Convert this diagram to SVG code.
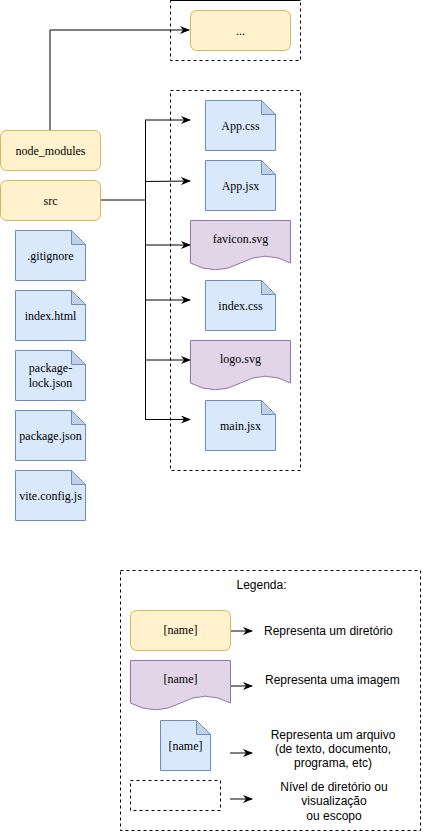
<svg xmlns="http://www.w3.org/2000/svg" width="423" height="833" viewBox="0 0 423 833">
<defs>
<style>
.dir{fill:#fff2cc;stroke:#d6b656;stroke-width:1}
.img{fill:#e1d5e7;stroke:#9673a6;stroke-width:1}
.file{fill:#dae8fc;stroke:#6c8ebf;stroke-width:1}
.fold{fill:#c3d1e6;stroke:#6c8ebf;stroke-width:1;stroke-linejoin:round}
.scope{fill:none;stroke:#000;stroke-width:1;stroke-dasharray:3 3}
.t{font-family:"Liberation Serif","Times New Roman",serif;font-size:12px;fill:#000;text-anchor:middle}
.s{font-family:"Liberation Sans",Arial,sans-serif;font-size:12px;fill:#000}
.edge{fill:none;stroke:#000;stroke-width:1}
</style>
<marker id="arr" viewBox="0 0 10 8" refX="9" refY="4" markerWidth="10" markerHeight="8" markerUnits="userSpaceOnUse" orient="auto">
<path d="M0,0 L10,4 L0,8 L3,4 Z" fill="#000"/>
</marker>
</defs>

<g id="scopes">
<rect class="scope" x="170.5" y="0.5" width="130" height="60"/>
<line x1="170.5" y1="0.5" x2="300.5" y2="0.5" stroke="#000" stroke-width="1"/>
<rect class="scope" x="170.5" y="90.5" width="130" height="380"/>
</g>

<g id="connectors">
<path class="edge" d="M50,130 L50,30 L189,30" marker-end="url(#arr)"/>
<path class="edge" d="M100,200 L145,200"/>
<path class="edge" d="M145.5,120 L145.5,419.5"/>
<path class="edge" d="M145,120 L190,120" marker-end="url(#arr)"/>
<path class="edge" d="M145,181.5 L190,181" marker-end="url(#arr)"/>
<path class="edge" d="M145,245 L190,245" marker-end="url(#arr)"/>
<path class="edge" d="M145,300 L190,300" marker-end="url(#arr)"/>
<path class="edge" d="M145,360 L190,360" marker-end="url(#arr)"/>
<path class="edge" d="M145,419.5 L190,419.5" marker-end="url(#arr)"/>
</g>

<g id="node-dots">
<rect class="dir" x="190.5" y="10.5" width="100" height="40" rx="6"/>
<text class="t" x="240.5" y="35">...</text>
</g>
<g id="node-node_modules">
<rect class="dir" x="0.5" y="130.5" width="100" height="40" rx="6"/>
<text class="t" x="50.5" y="155">node_modules</text>
</g>
<g id="node-src">
<rect class="dir" x="0.5" y="180.5" width="100" height="40" rx="6"/>
<text class="t" x="50.5" y="205">src</text>
</g>

<g id="node-app-css">
<path class="file" d="M205.5,100.5 H261.5 L275.5,114.5 V150.5 H205.5 Z"/>
<path class="fold" d="M261.5,100.5 V114.5 H275.5 Z"/>
<text class="t" x="240.5" y="130">App.css</text>
</g>
<g id="node-app-jsx">
<path class="file" d="M205.5,160.5 H261.5 L275.5,174.5 V210.5 H205.5 Z"/>
<path class="fold" d="M261.5,160.5 V174.5 H275.5 Z"/>
<text class="t" x="240.5" y="190">App.jsx</text>
</g>
<g id="node-favicon">
<path class="img" d="M190.5,220.5 H290.5 V263 Q265.5,249.5 240.5,263 Q215.5,276.5 190.5,263 Z"/>
<text class="t" x="240.5" y="243">favicon.svg</text>
</g>
<g id="node-index-css">
<path class="file" d="M205.5,280.5 H261.5 L275.5,294.5 V330.5 H205.5 Z"/>
<path class="fold" d="M261.5,280.5 V294.5 H275.5 Z"/>
<text class="t" x="240.5" y="310">index.css</text>
</g>
<g id="node-logo">
<path class="img" d="M190.5,340.5 H290.5 V383 Q265.5,369.5 240.5,383 Q215.5,396.5 190.5,383 Z"/>
<text class="t" x="240.5" y="363">logo.svg</text>
</g>
<g id="node-main-jsx">
<path class="file" d="M205.5,400.5 H261.5 L275.5,414.5 V450.5 H205.5 Z"/>
<path class="fold" d="M261.5,400.5 V414.5 H275.5 Z"/>
<text class="t" x="240.5" y="430">main.jsx</text>
</g>

<g id="node-gitignore">
<path class="file" d="M15.5,230.5 H71.5 L85.5,244.5 V280.5 H15.5 Z"/>
<path class="fold" d="M71.5,230.5 V244.5 H85.5 Z"/>
<text class="t" x="50.5" y="260">.gitignore</text>
</g>
<g id="node-index-html">
<path class="file" d="M15.5,290.5 H71.5 L85.5,304.5 V340.5 H15.5 Z"/>
<path class="fold" d="M71.5,290.5 V304.5 H85.5 Z"/>
<text class="t" x="50.5" y="320">index.html</text>
</g>
<g id="node-package-lock">
<path class="file" d="M15.5,350.5 H71.5 L85.5,364.5 V400.5 H15.5 Z"/>
<path class="fold" d="M71.5,350.5 V364.5 H85.5 Z"/>
<text class="t" x="50.5" y="372">package-</text>
<text class="t" x="50.5" y="387">lock.json</text>
</g>
<g id="node-package-json">
<path class="file" d="M15.5,410.5 H71.5 L85.5,424.5 V460.5 H15.5 Z"/>
<path class="fold" d="M71.5,410.5 V424.5 H85.5 Z"/>
<text class="t" x="50.5" y="440">package.json</text>
</g>
<g id="node-vite-config">
<path class="file" d="M15.5,470.5 H71.5 L85.5,484.5 V520.5 H15.5 Z"/>
<path class="fold" d="M71.5,470.5 V484.5 H85.5 Z"/>
<text class="t" x="50.5" y="500">vite.config.js</text>
</g>

<g id="legend">
<rect class="scope" x="120.5" y="570.5" width="300" height="260"/>
<text class="s" x="261.5" y="589" text-anchor="middle">Legenda:</text>
<rect class="dir" x="130.5" y="610.5" width="100" height="40" rx="6"/>
<text class="t" x="180.5" y="634">[name]</text>
<path class="img" d="M130.5,660.5 H230.5 V703 Q205.5,689.5 180.5,703 Q155.5,716.5 130.5,703 Z"/>
<text class="t" x="180.5" y="683">[name]</text>
<path class="file" d="M160.5,720.5 H196.5 L210.5,734.5 V770.5 H160.5 Z"/>
<path class="fold" d="M196.5,720.5 V734.5 H210.5 Z"/>
<text class="t" x="185.5" y="750">[name]</text>
<rect class="scope" x="130.5" y="780.5" width="90" height="30"/>
<path class="edge" d="M231,631 L252,631" marker-end="url(#arr)"/>
<path class="edge" d="M231,686 L252,686" marker-end="url(#arr)"/>
<path class="edge" d="M230,753 L252,753" marker-end="url(#arr)"/>
<path class="edge" d="M230,799 L252,799" marker-end="url(#arr)"/>
<text class="s" x="264" y="635">Representa um diretório</text>
<text class="s" x="265" y="684">Representa uma imagem</text>
<text class="s" x="333" y="739" text-anchor="middle">Representa um arquivo</text>
<text class="s" x="333" y="753" text-anchor="middle">(de texto, documento,</text>
<text class="s" x="333" y="767" text-anchor="middle">programa, etc)</text>
<text class="s" x="334" y="791" text-anchor="middle">Nível de diretório ou</text>
<text class="s" x="334" y="805" text-anchor="middle">visualização</text>
<text class="s" x="334" y="820" text-anchor="middle">ou escopo</text>
</g>
</svg>
